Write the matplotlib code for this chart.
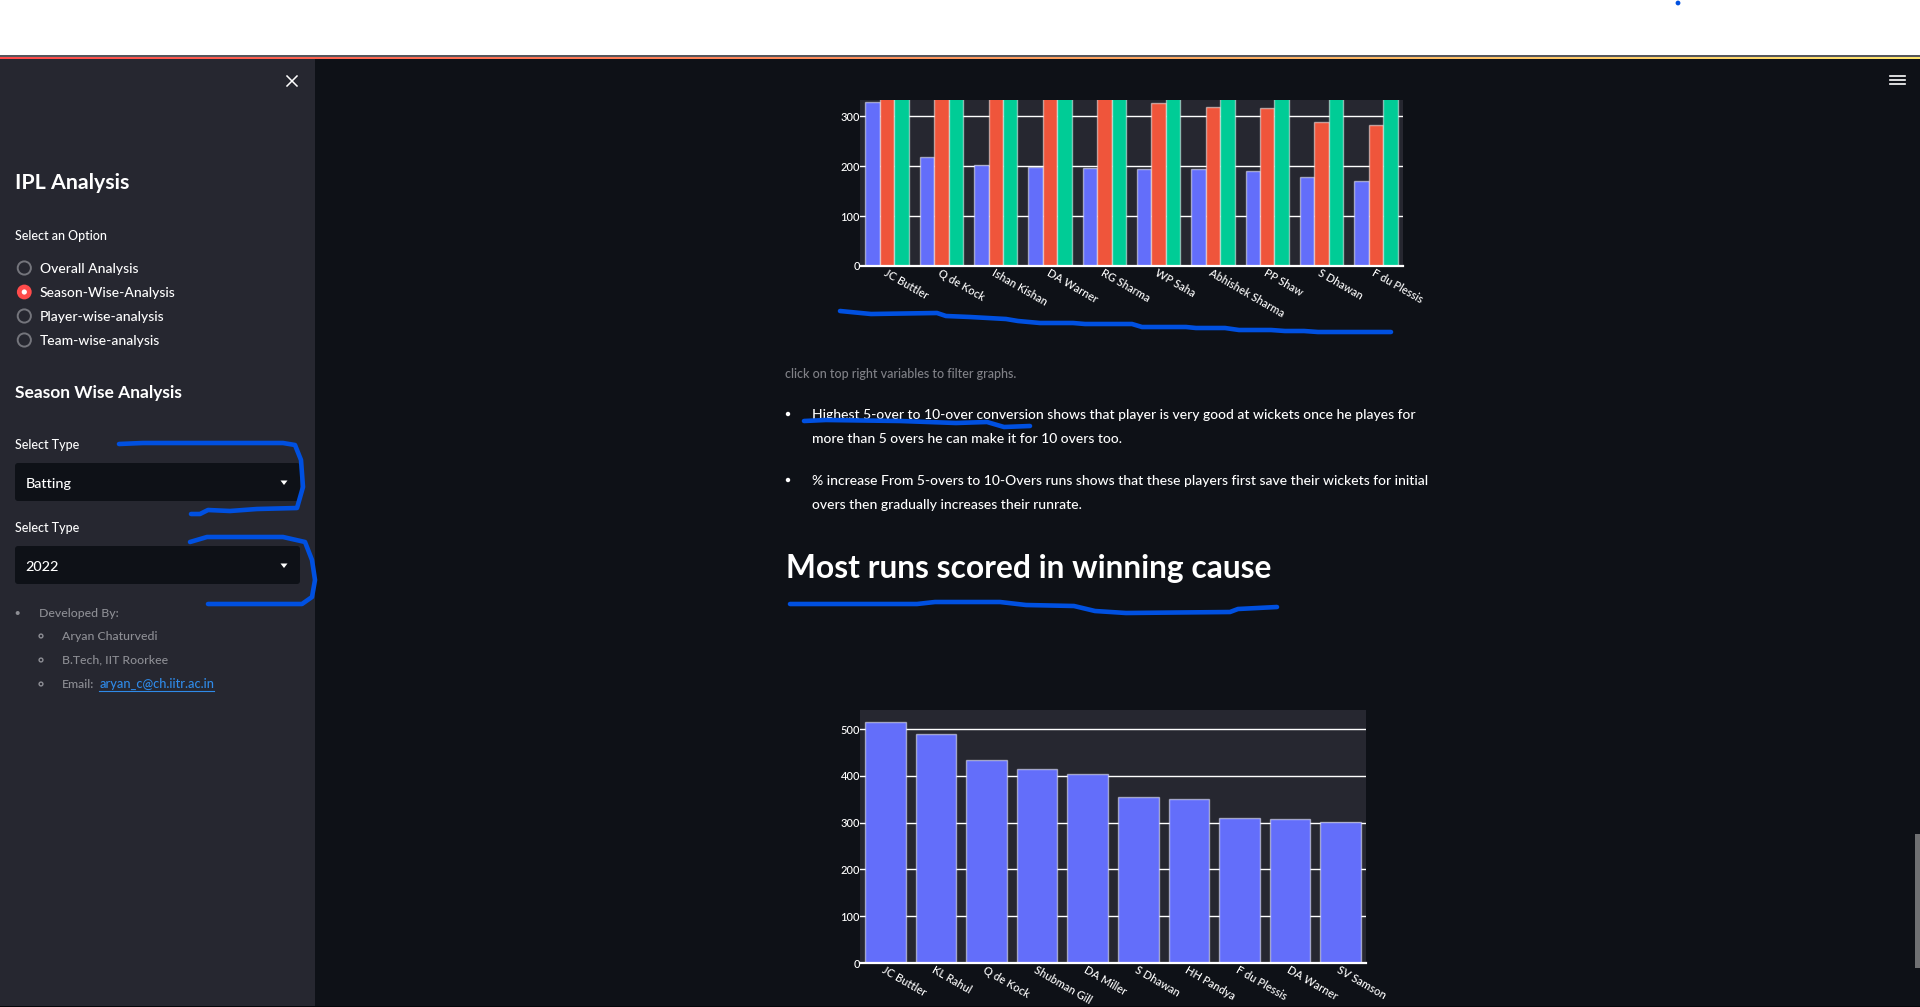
#!/usr/bin/env python3
"""Streamlit IPL dashboard screenshot: two plotly-style bar charts plus sidebar and pen marks."""
import matplotlib
matplotlib.use("Agg")
import matplotlib.pyplot as plt
import numpy as np
from matplotlib.patches import Circle, FancyBboxPatch, Polygon, Rectangle

W, H = 1920, 1007

# Top chart, red and green run past the top of the axis so those heights are estimates
TOP_PLAYERS = ["JC Buttler", "Q de Kock", "Ishan Kishan", "DA Warner", "RG Sharma",
               "WP Saha", "Abhishek Sharma", "PP Shaw", "S Dhawan", "F du Plessis"]
TOP_BLUE = [328, 219, 202, 199, 196, 194, 194, 191, 178, 171]
TOP_RED = [420, 400, 390, 380, 345, 327, 319, 316, 288, 282]
TOP_GREEN = [560, 520, 500, 480, 470, 460, 450, 445, 440, 435]
TOP_YTICKS = [0, 100, 200, 300]

BOTTOM_PLAYERS = ["JC Buttler", "KL Rahul", "Q de Kock", "Shubman Gill", "DA Miller",
                  "S Dhawan", "HH Pandya", "F du Plessis", "DA Warner", "SV Samson"]
BOTTOM_RUNS = [515, 489, 435, 414, 405, 356, 350, 309, 307, 302]
BOTTOM_YTICKS = [0, 100, 200, 300, 400, 500]

RADIO_OPTIONS = ["Overall Analysis", "Season-Wise-Analysis", "Player-wise-analysis", "Team-wise-analysis"]

# pen marks drawn over the screenshot, in pixels
STROKE_CHART = [(840, 311), (871, 314), (937, 313), (946, 316), (970, 317), (1006, 319), (1018, 321),
                (1040, 323), (1073, 323), (1085, 324), (1132, 324), (1142, 327), (1186, 327), (1196, 328),
                (1225, 328), (1239, 330), (1271, 330), (1285, 331), (1304, 331), (1318, 332), (1391, 332)]
STROKE_HIGHEST = [(804, 421), (826, 420), (900, 421), (956, 423), (987, 422), (1004, 427), (1030, 426)]
STROKE_HEADING = [(790, 604), (917, 604), (935, 602), (1000, 602), (1026, 605), (1074, 606), (1095, 611),
                  (1126, 613), (1230, 612), (1238, 609), (1277, 607)]
STROKE_BOX1 = [(119, 444), (143, 443), (283, 443), (295, 445), (301, 460), (303, 487), (297, 508),
               (257, 509), (230, 511), (208, 510), (200, 514), (191, 514)]
STROKE_BOX2 = [(190, 542), (207, 537), (283, 537), (305, 542), (312, 560), (315, 580), (312, 597),
               (302, 604), (208, 604)]

PAGE = "#0e1117"
PANEL = "#262730"
BLUE = "#636efa"
RED = "#ef553b"
GREEN = "#00cc96"
PEN = "#0050e0"
FONT = "Lato"
BODY = "medium"


def px_axes(fig, x0, y0, x1, y1):
    # axes placed by pixel box, y measured from the top of the picture
    return fig.add_axes([x0 / W, 1 - y1 / H, (x1 - x0) / W, (y1 - y0) / H])


def style_chart(ax, names, yticks, ymax):
    ax.set_facecolor(PANEL)
    ax.set_xlim(-0.5, 9.5)
    ax.set_ylim(0, ymax)
    ax.set_yticks(yticks)
    ax.set_xticks(range(10))
    ax.set_xticklabels(names, rotation=-30, ha="left", va="top", rotation_mode="anchor",
                       fontsize=8.0, color="white", family=FONT, weight=BODY)
    ax.tick_params(axis="x", length=0, pad=1)
    ax.tick_params(axis="y", length=0, pad=0, labelsize=8, labelcolor="white")
    for lab in ax.get_yticklabels():
        lab.set_family(FONT)
        lab.set_weight(BODY)
    ax.grid(axis="y", color="white", linewidth=1.0)
    ax.set_axisbelow(True)
    for side in ["top", "right", "left"]:
        ax.spines[side].set_visible(False)
    ax.spines["bottom"].set_color("white")
    ax.spines["bottom"].set_linewidth(1.6)


def label(ui, x, y, s, size, color="white", weight=BODY):
    # Lato sits a touch high against the original web font
    return ui.text(x, y + 1.2, s, fontsize=size, color=color, weight=weight, family=FONT, ha="left", va="center")


def main():
    fig = plt.figure(figsize=(W / 100, H / 100), dpi=100, facecolor=PAGE)

    ui = fig.add_axes([0, 0, 1, 1], zorder=0)
    ui.set_xlim(0, W)
    ui.set_ylim(H, 0)
    ui.axis("off")

    # browser strip and the streamlit decoration line
    ui.add_patch(Rectangle((0, 0), W, 55, color="white", lw=0))
    ui.add_patch(Rectangle((0, 55), W, 2, color="#55565c", lw=0))
    grad = np.linspace(0, 1, 256)
    rgb = np.array([(1.0, 0.29 + 0.61 * t, 0.29 + 0.14 * t) for t in grad])[None, :, :]
    ui.imshow(rgb, extent=[0, W, 59, 57], aspect="auto", zorder=1)
    ui.set_xlim(0, W)
    ui.set_ylim(H, 0)
    ui.add_patch(Circle((1678, 3), 2.4, color=PEN, lw=0))

    # sidebar
    ui.add_patch(Rectangle((0, 59), 315, H - 59, color=PANEL, lw=0))
    ui.plot([287, 297], [76, 86], color="white", lw=1.1)
    ui.plot([287, 297], [86, 76], color="white", lw=1.1)
    label(ui, 15, 181.5, "IPL Analysis", 15.4, weight="bold")
    label(ui, 15, 235, "Select an Option", 9)
    for i, opt in enumerate(RADIO_OPTIONS):
        y = 268 + i * 24
        if i == 1:
            ui.add_patch(Circle((24.3, y), 7.4, color="#ff4b4b", lw=0))
            ui.add_patch(Circle((24.3, y), 2.6, color="white", lw=0))
        else:
            ui.add_patch(Circle((24.3, y), 6.6, facecolor=PANEL, edgecolor="#74757c", lw=1.4))
        label(ui, 39.7, y, opt, 10)
    label(ui, 15, 392, "Season Wise Analysis", 12.5, weight="bold")

    for lab_y, box_y, val in [(444, 463, "Batting"), (527, 546, "2022")]:
        label(ui, 15, lab_y, "Select Type", 9)
        ui.add_patch(FancyBboxPatch((15, box_y), 285, 38, boxstyle="round,pad=0,rounding_size=3",
                                    facecolor=PAGE, edgecolor="none"))
        label(ui, 25.7, box_y + 19.5, val, 10.4)
        cy = box_y + 20
        ui.add_patch(Polygon([(280.5, cy - 2.5), (287.5, cy - 2.5), (284, cy + 2)], color="white", lw=0))

    gray = "#8d8e94"
    ui.add_patch(Circle((17.7, 613), 2, color=gray, lw=0))
    label(ui, 39.3, 612, "Developed By:", 8.8, gray)
    for y, s in [(636, "Aryan Chaturvedi"), (660, "B.Tech, IIT Roorkee"), (684, "Email:")]:
        ui.add_patch(Circle((41, y), 1.9, facecolor=PANEL, edgecolor=gray, lw=1))
        label(ui, 62.3, y - 1, s, 8.8, gray)
    label(ui, 99.3, 683, "aryan_c@ch.iitr.ac.in", 9.2, "#2f8ae8")
    ui.plot([99.3, 214], [691, 691], color="#2f8ae8", lw=0.8)

    # main column text
    label(ui, 785, 373, "click on top right variables to filter graphs.", 9, "#808187")
    ui.add_patch(Circle((788, 414), 2.2, color="white", lw=0))
    label(ui, 812, 414, "Highest 5-over to 10-over conversion shows that player is very good at wickets once he playes for", 9.97)
    label(ui, 812, 437.5, "more than 5 overs he can make it for 10 overs too.", 9.97)
    ui.add_patch(Circle((788, 480), 2.2, color="white", lw=0))
    label(ui, 812, 480, "% increase From 5-overs to 10-Overs runs shows that these players first save their wickets for initial", 9.97)
    label(ui, 812, 504, "overs then gradually increases their runrate.", 9.97)
    label(ui, 786, 567.5, "Most runs scored in winning cause", 22.85, weight="bold")

    # hamburger and scrollbar
    for y in [76, 80, 84]:
        ui.plot([1890, 1905], [y, y], color="white", lw=1.2)
    ui.add_patch(Rectangle((1915, 834), 5, 134, color="#6f7072", lw=0))
    ui.add_patch(Rectangle((0, 1005.6), W, 1.4, color="#05060a", lw=0))

    # grouped bars
    ax_top = px_axes(fig, 860, 100, 1403, 266)
    style_chart(ax_top, TOP_PLAYERS, TOP_YTICKS, 333)
    x = np.arange(10)
    w = 0.8 / 3
    for off, vals, col in [(-w, TOP_BLUE, BLUE), (0, TOP_RED, RED), (w, TOP_GREEN, GREEN)]:
        ax_top.bar(x + off, vals, width=w, color=col, edgecolor=(1, 1, 1, 0.5), linewidth=1.0)

    # single series bars
    ax_bot = px_axes(fig, 860, 710, 1366, 963)
    style_chart(ax_bot, BOTTOM_PLAYERS, BOTTOM_YTICKS, 541)
    ax_bot.bar(np.arange(10), BOTTOM_RUNS, width=0.8, color=BLUE, edgecolor=(1, 1, 1, 0.5), linewidth=1.0)

    # pen marks sit over everything
    pen = fig.add_axes([0, 0, 1, 1], zorder=5)
    pen.set_xlim(0, W)
    pen.set_ylim(H, 0)
    pen.axis("off")
    pen.patch.set_alpha(0)
    for stroke in [STROKE_CHART, STROKE_HIGHEST, STROKE_HEADING, STROKE_BOX1, STROKE_BOX2]:
        xs, ys = zip(*stroke)
        pen.plot(xs, ys, color=PEN, lw=3.3, solid_capstyle="round", solid_joinstyle="round")

    fig.savefig("out.png", dpi=100, facecolor=fig.get_facecolor())
    plt.close(fig)


if __name__ == "__main__":
    main()
